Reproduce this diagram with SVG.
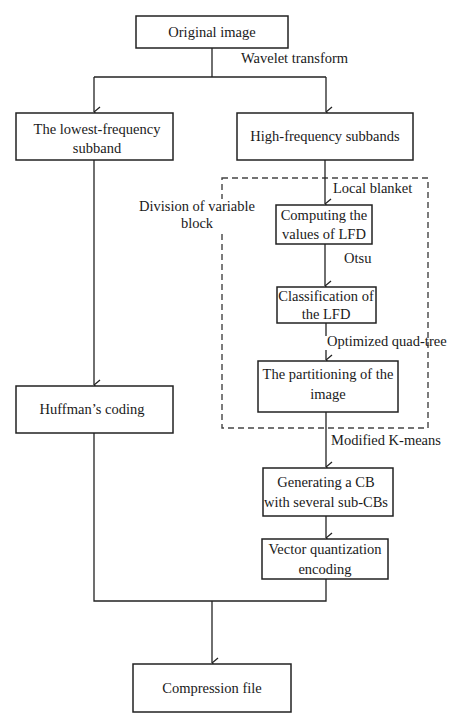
<svg xmlns="http://www.w3.org/2000/svg" width="474" height="728" viewBox="0 0 474 728">
<defs>
<marker id="arr" viewBox="0 0 12 8" refX="6" refY="7.5" markerWidth="12" markerHeight="8" markerUnits="userSpaceOnUse" orient="auto-start-reverse">
<polyline points="1,1.5 6,7.5 11,1.5" fill="none" stroke="#222" stroke-width="1.3"/>
</marker>
<style>
.box{fill:#fff;stroke:#222;stroke-width:1.5}
.dash{fill:none;stroke:#444;stroke-width:1.4;stroke-dasharray:6,4}
.ln{fill:none;stroke:#222;stroke-width:1.3}
.t{font-family:"Liberation Serif","Times New Roman",serif;font-size:14.5px;fill:#1a1a1a}
.c{text-anchor:middle}
</style>
</defs>
<rect width="474" height="728" fill="#fff"/>
<rect class="dash" x="222" y="178" width="206" height="250"/>
<rect x="134" y="199" width="126" height="31" fill="#fff"/>
<g id="connectors">
<polyline class="ln" points="212,48 212,77"/>
<polyline class="ln" points="94,77 326,77"/>
<polyline class="ln" points="94,77 94,112" marker-end="url(#arr)"/>
<polyline class="ln" points="326,77 326,112" marker-end="url(#arr)"/>
<polyline class="ln" points="94,160 94,385" marker-end="url(#arr)"/>
<polyline class="ln" points="325,160 325,204" marker-end="url(#arr)"/>
<polyline class="ln" points="325,244 325,286" marker-end="url(#arr)"/>
<polyline class="ln" points="326,323 326,336"/>
<polyline class="ln" points="326,350 326,360" marker-end="url(#arr)"/>
<polyline class="ln" points="326,412 326,467" marker-end="url(#arr)"/>
<polyline class="ln" points="326,516 326,538" marker-end="url(#arr)"/>
<polyline class="ln" points="94,433 94,601 326,601 326,579"/>
<polyline class="ln" points="212,601 212,663" marker-end="url(#arr)"/>
<text class="t" x="241" y="63">Wavelet transform</text>
<text class="t" x="333" y="193">Local blanket</text>
<text class="t" x="344" y="263">Otsu</text>
<text class="t" x="327" y="346">Optimized quad-tree</text>
<text class="t" x="331" y="445">Modified K-means</text>
<text class="t c" x="197" y="211">Division of variable</text>
<text class="t c" x="197" y="228">block</text>
</g>
<g id="original">
<rect class="box" x="136" y="16" width="152" height="32"/>
<text class="t c" x="212" y="37">Original image</text>
</g>
<g id="lowest">
<rect class="box" x="16" y="113" width="157" height="47"/>
<text class="t c" x="97" y="134">The lowest-frequency</text>
<text class="t c" x="97" y="153">subband</text>
</g>
<g id="high">
<rect class="box" x="237" y="113" width="176" height="47"/>
<text class="t c" x="325" y="141">High-frequency subbands</text>
</g>
<g id="computing">
<rect class="box" x="276" y="205" width="96" height="39"/>
<text class="t c" x="324" y="220">Computing the</text>
<text class="t c" x="324" y="239">values of LFD</text>
</g>
<g id="classification">
<rect class="box" x="277" y="287" width="99" height="36"/>
<text class="t c" x="326" y="301">Classification of</text>
<text class="t c" x="326" y="319">the LFD</text>
</g>
<g id="partitioning">
<rect class="box" x="258" y="361" width="140" height="51"/>
<text class="t c" x="328" y="379">The partitioning of the</text>
<text class="t c" x="328" y="399">image</text>
</g>
<g id="huffman">
<rect class="box" x="16" y="386" width="157" height="47"/>
<text class="t c" x="92" y="414">Huffman’s coding</text>
</g>
<g id="generating">
<rect class="box" x="263" y="468" width="130" height="48"/>
<text class="t c" x="326" y="487">Generating a CB</text>
<text class="t c" x="326" y="507">with several sub-CBs</text>
</g>
<g id="vector">
<rect class="box" x="262" y="539" width="126" height="40"/>
<text class="t c" x="325" y="554">Vector quantization</text>
<text class="t c" x="325" y="574">encoding</text>
</g>
<g id="compression">
<rect class="box" x="133" y="664" width="158" height="48"/>
<text class="t c" x="212" y="693">Compression file</text>
</g>
</svg>
